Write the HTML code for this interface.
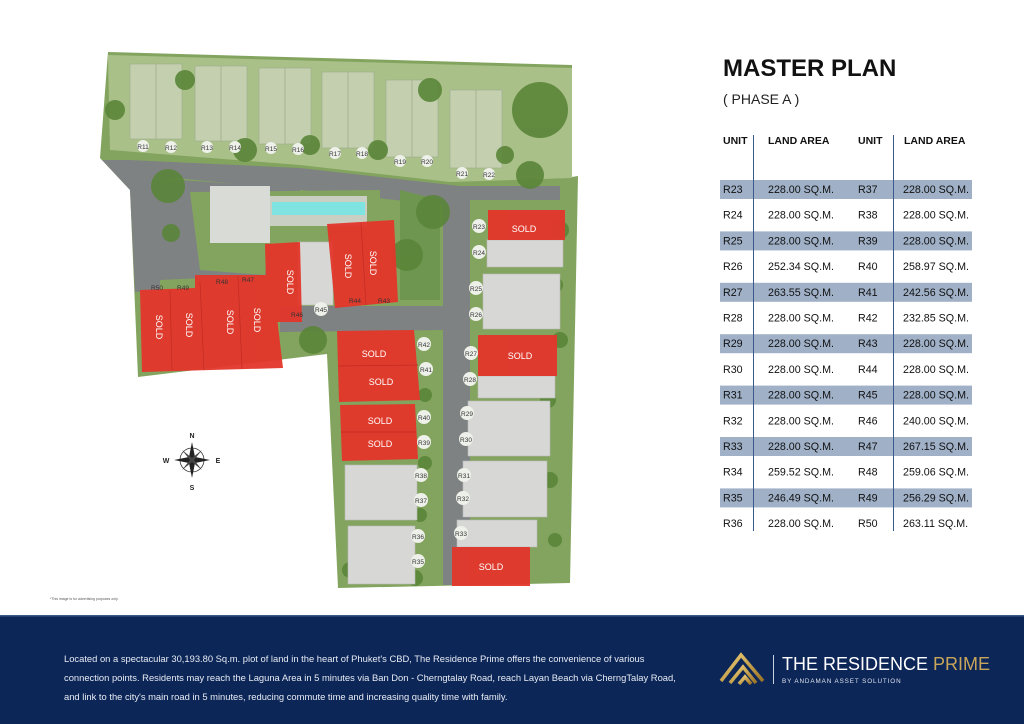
<!DOCTYPE html>
<html><head><meta charset="utf-8"><style>
html,body{margin:0;padding:0;}
body{width:1024px;height:724px;position:relative;background:#fff;font-family:"Liberation Sans",Arial,sans-serif;overflow:hidden;}
</style></head><body>
<svg width="1024" height="724" style="position:absolute;left:0;top:0" xmlns="http://www.w3.org/2000/svg" font-family="Liberation Sans, sans-serif">
<defs>
<linearGradient id="gold" x1="0" y1="0" x2="1" y2="1"><stop offset="0" stop-color="#f3d27a"/><stop offset="1" stop-color="#9a7426"/></linearGradient>
</defs>
<polygon points="108,52 572,65 572,177 578,176 570,583 338,588 327,354 138,377 130,190 100,158" fill="#83a45e"/>
<polygon points="108,55 572,68 572,178 450,182 300,165 110,150" fill="#a9c088"/>
<path d="M102,160 L130,160 L300,168 L460,186 L560,186 L560,200 L470,200 L470,585 L443,585 L443,330 L280,332 L280,306 L443,306 L443,205 L300,190 L175,178 L160,182 L160,290 L135,292 L130,190 Z" fill="#7f8283"/>
<path d="M150,200 Q150,180 180,180 L300,188 L300,240 L270,245 L270,275 L160,280 Z" fill="#7f8283"/>
<polygon points="190,192 380,190 380,245 270,245 265,275 200,270" fill="#83a45e"/>
<polygon points="400,190 440,200 440,300 400,300" fill="#6f9650"/>
<rect x="210" y="186" width="60" height="57" fill="#d9dcd6"/>
<rect x="270" y="196" width="97" height="30" fill="#c9cfc3"/>
<rect x="272" y="202" width="93" height="13" fill="#7fe3e1"/>
<g fill="#c3cfae" stroke="#a1ad8c" stroke-width="0.6">
<rect x="130" y="64" width="52" height="75"/><rect x="195" y="66" width="52" height="75"/>
<rect x="259" y="68" width="52" height="76"/><rect x="322" y="72" width="52" height="76"/>
<rect x="386" y="80" width="52" height="77"/><rect x="450" y="90" width="52" height="78"/>
</g>
<g stroke="#a1ad8c" stroke-width="0.8"><line x1="156" y1="64" x2="156" y2="139"/><line x1="221" y1="66" x2="221" y2="141"/><line x1="285" y1="68" x2="285" y2="144"/><line x1="348" y1="72" x2="348" y2="148"/><line x1="412" y1="80" x2="412" y2="157"/><line x1="476" y1="90" x2="476" y2="168"/></g>
<g fill="#5a8539" opacity="0.9">
<circle cx="168" cy="186" r="17"/><circle cx="433" cy="212" r="17"/><circle cx="171" cy="233" r="9"/>
<circle cx="407" cy="255" r="16"/><circle cx="313" cy="340" r="14"/><circle cx="540" cy="110" r="28"/>
<circle cx="530" cy="175" r="14"/><circle cx="555" cy="285" r="8"/><circle cx="548" cy="400" r="8"/><circle cx="550" cy="480" r="8"/><circle cx="555" cy="540" r="7"/>
<circle cx="425" cy="395" r="7"/><circle cx="425" cy="463" r="7"/><circle cx="420" cy="515" r="7"/><circle cx="350" cy="570" r="8"/><circle cx="415" cy="578" r="8"/>
<circle cx="185" cy="80" r="10"/><circle cx="245" cy="150" r="12"/><circle cx="310" cy="145" r="10"/><circle cx="378" cy="150" r="10"/><circle cx="430" cy="90" r="12"/>
<circle cx="115" cy="110" r="10"/><circle cx="505" cy="155" r="9"/><circle cx="560" cy="230" r="9"/><circle cx="560" cy="340" r="8"/>
</g>
<g fill="#d7d8d6" stroke="#b9bbb8" stroke-width="0.6">
<rect x="487" y="240" width="76" height="27"/>
<rect x="483" y="274" width="77" height="55"/>
<rect x="478" y="376" width="77" height="22"/>
<rect x="468" y="401" width="82" height="55"/>
<rect x="463" y="461" width="84" height="56"/>
<rect x="457" y="520" width="80" height="27"/>
<rect x="345" y="465" width="72" height="55"/>
<rect x="348" y="526" width="67" height="58"/>
<rect x="298" y="242" width="35" height="63"/>
</g>
<g fill="#e3362b" opacity="0.95">
<rect x="488" y="210" width="77" height="30"/>
<rect x="478" y="335" width="79" height="41"/>
<rect x="452" y="547" width="78" height="39"/>
<polygon points="337,331 414,330 420,400 339,402"/>
<polygon points="340,405 415,404 418,459 342,461"/>
<polygon points="327,224 394,220 398,302 335,308"/>
<polygon points="265,244 300,242 302,322 267,322"/>
<polygon points="140,290 195,288 195,275 272,275 283,368 142,372"/>
</g>
<g stroke="#c22a22" stroke-width="0.7" fill="none">
<line x1="338" y1="366" x2="418" y2="365"/><line x1="341" y1="432" x2="416" y2="432"/>
<line x1="361" y1="223" x2="366" y2="305"/><line x1="170" y1="290" x2="172" y2="370"/><line x1="200" y1="282" x2="204" y2="370"/><line x1="238" y1="276" x2="242" y2="369"/>
</g>
<g fill="#fff" font-size="9" text-anchor="middle">
<text x="524" y="232">SOLD</text><text x="520" y="359">SOLD</text><text x="491" y="570">SOLD</text>
<text x="374" y="357">SOLD</text><text x="381" y="385">SOLD</text><text x="380" y="424">SOLD</text><text x="380" y="447">SOLD</text>
<text transform="translate(287,282) rotate(90)">SOLD</text>
<text transform="translate(345,266) rotate(90)">SOLD</text><text transform="translate(370,263) rotate(90)">SOLD</text>
<text transform="translate(156,327) rotate(90)">SOLD</text><text transform="translate(186,325) rotate(90)">SOLD</text><text transform="translate(227,322) rotate(90)">SOLD</text><text transform="translate(254,320) rotate(90)">SOLD</text>
</g>
<g font-size="6.5" fill="#333" text-anchor="middle">
<g fill="#eef1ea"><circle cx="143" cy="146" r="6"/><circle cx="171" cy="147" r="6"/><circle cx="207" cy="147" r="6"/><circle cx="235" cy="147" r="6"/><circle cx="271" cy="148" r="6"/><circle cx="298" cy="149" r="6"/><circle cx="335" cy="153" r="6"/><circle cx="362" cy="153" r="6"/><circle cx="400" cy="161" r="6"/><circle cx="427" cy="161" r="6"/><circle cx="462" cy="173" r="6"/><circle cx="489" cy="174" r="6"/>
<circle cx="479" cy="226" r="7"/><circle cx="479" cy="252" r="7"/><circle cx="476" cy="288" r="7"/><circle cx="476" cy="314" r="7"/><circle cx="471" cy="353" r="7"/><circle cx="470" cy="379" r="7"/><circle cx="467" cy="413" r="7"/><circle cx="466" cy="439" r="7"/><circle cx="464" cy="475" r="7"/><circle cx="463" cy="498" r="7"/><circle cx="461" cy="533" r="7"/>
<circle cx="424" cy="344" r="7"/><circle cx="426" cy="369" r="7"/><circle cx="424" cy="417" r="7"/><circle cx="424" cy="442" r="7"/><circle cx="421" cy="475" r="7"/><circle cx="421" cy="500" r="7"/><circle cx="418" cy="536" r="7"/><circle cx="418" cy="561" r="7"/><circle cx="321" cy="309" r="7"/></g>
<text x="143" y="149">R11</text><text x="171" y="150">R12</text><text x="207" y="150">R13</text><text x="235" y="150">R14</text><text x="271" y="151">R15</text><text x="298" y="152">R16</text><text x="335" y="156">R17</text><text x="362" y="156">R18</text><text x="400" y="164">R19</text><text x="427" y="164">R20</text><text x="462" y="176">R21</text><text x="489" y="177">R22</text>
<text x="479" y="229">R23</text><text x="479" y="255">R24</text><text x="476" y="291">R25</text><text x="476" y="317">R26</text><text x="471" y="356">R27</text><text x="470" y="382">R28</text><text x="467" y="416">R29</text><text x="466" y="442">R30</text><text x="464" y="478">R31</text><text x="463" y="501">R32</text><text x="461" y="536">R33</text>
<text x="424" y="347">R42</text><text x="426" y="372">R41</text><text x="424" y="420">R40</text><text x="424" y="445">R39</text><text x="421" y="478">R38</text><text x="421" y="503">R37</text><text x="418" y="539">R36</text><text x="418" y="564">R35</text><text x="321" y="312">R45</text>
<text x="157" y="290">R50</text><text x="183" y="290">R49</text><text x="222" y="284">R48</text><text x="248" y="282">R47</text><text x="297" y="317">R46</text><text x="355" y="303">R44</text><text x="384" y="303">R43</text>
</g>
<g transform="translate(192,460)">
<circle r="12" fill="none" stroke="#333" stroke-width="0.8"/>
<polygon points="0,-18 3,-3 0,0 -3,-3" fill="#222"/><polygon points="0,18 3,3 0,0 -3,3" fill="#222"/>
<polygon points="18,0 3,3 0,0 3,-3" fill="#222"/><polygon points="-18,0 -3,3 0,0 -3,-3" fill="#222"/>
<polygon points="10,-10 2,0 0,0 0,-2" fill="#444"/><polygon points="-10,10 -2,0 0,0 0,2" fill="#444"/><polygon points="10,10 0,2 0,0 2,0" fill="#444"/><polygon points="-10,-10 0,-2 0,0 -2,0" fill="#444"/>
<g font-size="7" font-weight="bold" text-anchor="middle" fill="#222"><text y="-22">N</text><text y="30">S</text><text x="-26" y="3">W</text><text x="26" y="3">E</text></g>
</g>
<text x="50" y="600" font-size="3.5" fill="#555">*This image is for advertising purposes only.</text>

<text x="723" y="76" font-size="24" font-weight="bold" fill="#111">MASTER PLAN</text>
<text x="723" y="104" font-size="14" fill="#222">( PHASE A )</text>
<g font-size="10.5" font-weight="bold" fill="#111"><text x="723" y="144">UNIT</text><text x="768" y="144">LAND AREA</text><text x="858" y="144">UNIT</text><text x="904" y="144">LAND AREA</text></g>
<g fill="#9fb0c7">
<rect x="720" y="180" width="252" height="19"/><rect x="720" y="231.4" width="252" height="19"/><rect x="720" y="282.8" width="252" height="19"/><rect x="720" y="334.2" width="252" height="19"/><rect x="720" y="385.6" width="252" height="19"/><rect x="720" y="437" width="252" height="19"/><rect x="720" y="488.4" width="252" height="19"/>
</g>
<g stroke="#3a5a8c" stroke-width="1"><line x1="753.5" y1="135" x2="753.5" y2="531"/><line x1="893.5" y1="135" x2="893.5" y2="531"/></g>
<g font-size="10.7" fill="#111">
<text x="723" y="193">R23</text><text x="768" y="193">228.00 SQ.M.</text><text x="858" y="193">R37</text><text x="903" y="193">228.00 SQ.M.</text>
<text x="723" y="218.7">R24</text><text x="768" y="218.7">228.00 SQ.M.</text><text x="858" y="218.7">R38</text><text x="903" y="218.7">228.00 SQ.M.</text>
<text x="723" y="244.4">R25</text><text x="768" y="244.4">228.00 SQ.M.</text><text x="858" y="244.4">R39</text><text x="903" y="244.4">228.00 SQ.M.</text>
<text x="723" y="270.1">R26</text><text x="768" y="270.1">252.34 SQ.M.</text><text x="858" y="270.1">R40</text><text x="903" y="270.1">258.97 SQ.M.</text>
<text x="723" y="295.8">R27</text><text x="768" y="295.8">263.55 SQ.M.</text><text x="858" y="295.8">R41</text><text x="903" y="295.8">242.56 SQ.M.</text>
<text x="723" y="321.5">R28</text><text x="768" y="321.5">228.00 SQ.M.</text><text x="858" y="321.5">R42</text><text x="903" y="321.5">232.85 SQ.M.</text>
<text x="723" y="347.2">R29</text><text x="768" y="347.2">228.00 SQ.M.</text><text x="858" y="347.2">R43</text><text x="903" y="347.2">228.00 SQ.M.</text>
<text x="723" y="372.9">R30</text><text x="768" y="372.9">228.00 SQ.M.</text><text x="858" y="372.9">R44</text><text x="903" y="372.9">228.00 SQ.M.</text>
<text x="723" y="398.6">R31</text><text x="768" y="398.6">228.00 SQ.M.</text><text x="858" y="398.6">R45</text><text x="903" y="398.6">228.00 SQ.M.</text>
<text x="723" y="424.3">R32</text><text x="768" y="424.3">228.00 SQ.M.</text><text x="858" y="424.3">R46</text><text x="903" y="424.3">240.00 SQ.M.</text>
<text x="723" y="450">R33</text><text x="768" y="450">228.00 SQ.M.</text><text x="858" y="450">R47</text><text x="903" y="450">267.15 SQ.M.</text>
<text x="723" y="475.7">R34</text><text x="768" y="475.7">259.52 SQ.M.</text><text x="858" y="475.7">R48</text><text x="903" y="475.7">259.06 SQ.M.</text>
<text x="723" y="501.4">R35</text><text x="768" y="501.4">246.49 SQ.M.</text><text x="858" y="501.4">R49</text><text x="903" y="501.4">256.29 SQ.M.</text>
<text x="723" y="527.1">R36</text><text x="768" y="527.1">228.00 SQ.M.</text><text x="858" y="527.1">R50</text><text x="903" y="527.1">263.11 SQ.M.</text>
</g>

<rect x="0" y="615" width="1024" height="109" fill="#0c2658"/>
<rect x="0" y="615" width="1024" height="1.5" fill="#3b5a8a"/>
<g font-size="9.4" fill="#e8ecf3">
<text x="64" y="662">Located on a spectacular 30,193.80 Sq.m. plot of land in the heart of Phuket's CBD, The Residence Prime offers the convenience of various</text>
<text x="64" y="681">connection points. Residents may reach the Laguna Area in 5 minutes via Ban Don - Cherngtalay Road, reach Layan Beach via CherngTalay Road,</text>
<text x="64" y="700">and link to the city's main road in 5 minutes, reducing commute time and increasing quality time with family.</text>
</g>
<g fill="none" stroke="url(#gold)" stroke-width="3.5">
<polyline points="721,681 741,655 763,681"/>
<polyline points="730,683 743,667 756,683"/>
<polyline points="739,684 745,677 751,684"/>
</g>
<line x1="773.5" y1="655" x2="773.5" y2="684" stroke="#c9d1e0" stroke-width="1"/>
<text x="782" y="670" font-size="18" fill="#fff">THE RESIDENCE <tspan fill="#c9a55a">PRIME</tspan></text>
<text x="782" y="683" font-size="6.3" fill="#dfe4ee" letter-spacing="0.9">BY ANDAMAN ASSET SOLUTION</text>
</svg>
</body></html>
